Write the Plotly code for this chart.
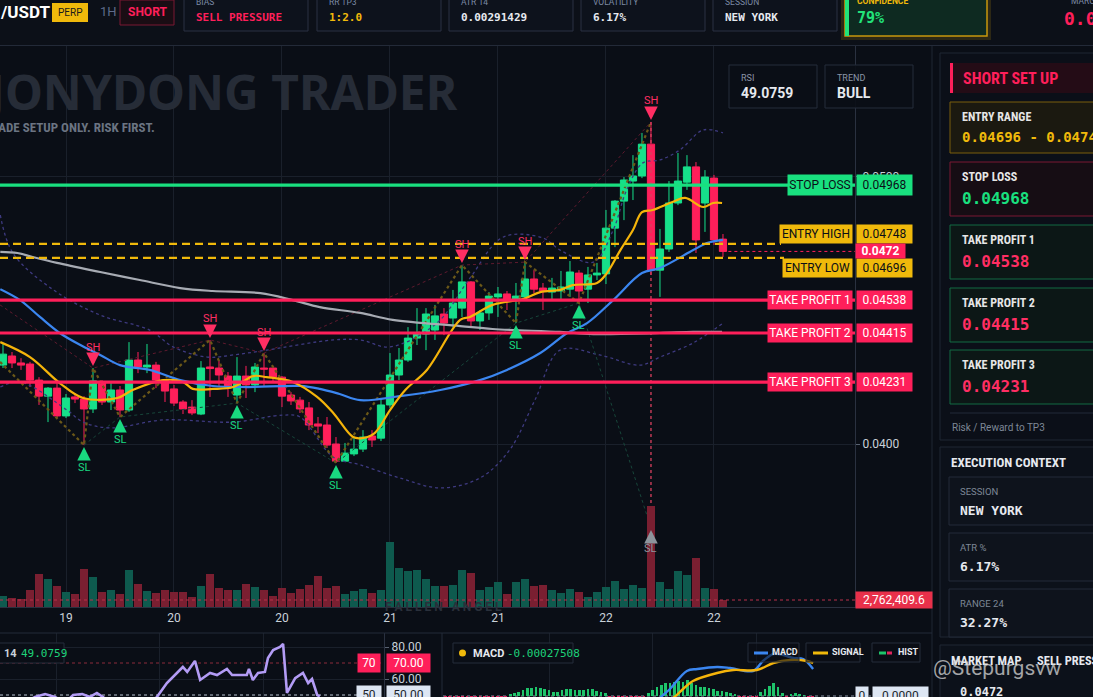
import plotly.graph_objects as go

W, H = 1093, 697

# ====================== DATA ======================
time_ticks = [7, 19, 31, 43, 55, 67, 79]
time_labels = ["19", "20", "20", "21", "21", "22", "22"]
price_ticks = [0.04, 0.05]
price_labels = ["0.0400", "0.0500"]

open_p = [0.04295, 0.04329, 0.04303, 0.04299, 0.04239, 0.04179, 0.04209, 0.04105, 0.04176, 0.04168,
          0.04131, 0.04228, 0.04157, 0.04202, 0.04127, 0.04314, 0.04288, 0.04295, 0.04239, 0.04206,
          0.04157, 0.04138, 0.04112, 0.04288, 0.04284, 0.04254, 0.04183, 0.04254, 0.04221, 0.04284,
          0.04284, 0.04250, 0.04183, 0.04164, 0.04135, 0.04075, 0.04071, 0.04000, 0.03936, 0.03963,
          0.03981, 0.04030, 0.04022, 0.04146, 0.04258, 0.04314, 0.04396, 0.04411, 0.04426, 0.04486,
          0.04471, 0.04508, 0.04606, 0.04460, 0.04490, 0.04550, 0.04561, 0.04542, 0.04550, 0.04617,
          0.04583, 0.04568, 0.04572, 0.04579, 0.04639, 0.04579, 0.04632, 0.04636, 0.04807, 0.04908,
          0.04983, 0.05002, 0.05121, 0.04650, 0.04729, 0.04901, 0.04979, 0.05036, 0.04901, 0.04994,
          0.04766]
high_p = [0.04378, 0.04344, 0.04321, 0.04307, 0.04250, 0.04213, 0.04228, 0.04187, 0.04191, 0.04179,
          0.04284, 0.04239, 0.04228, 0.04217, 0.04381, 0.04344, 0.04374, 0.04307, 0.04243, 0.04221,
          0.04164, 0.04164, 0.04310, 0.04389, 0.04314, 0.04269, 0.04325, 0.04292, 0.04303, 0.04340,
          0.04292, 0.04254, 0.04194, 0.04176, 0.04157, 0.04101, 0.04101, 0.04026, 0.04004, 0.04022,
          0.04052, 0.04052, 0.04172, 0.04340, 0.04359, 0.04437, 0.04508, 0.04508, 0.04520, 0.04508,
          0.04576, 0.04669, 0.04609, 0.04501, 0.04568, 0.04587, 0.04572, 0.04602, 0.04680, 0.04650,
          0.04602, 0.04621, 0.04647, 0.04684, 0.04650, 0.04662, 0.04677, 0.04875, 0.04912, 0.04998,
          0.05080, 0.05163, 0.05204, 0.04804, 0.04983, 0.05088, 0.05080, 0.05054, 0.05024, 0.05006,
          0.04785]
low_p = [0.04284, 0.04284, 0.04277, 0.04213, 0.04146, 0.04082, 0.04097, 0.04097, 0.04153, 0.03996,
         0.04116, 0.04146, 0.04127, 0.04101, 0.04120, 0.04265, 0.04265, 0.04209, 0.04157, 0.04142,
         0.04112, 0.04108, 0.04108, 0.04176, 0.04213, 0.04176, 0.04153, 0.04172, 0.04194, 0.04217,
         0.04228, 0.04138, 0.04146, 0.04116, 0.04052, 0.04041, 0.03985, 0.03929, 0.03933, 0.03955,
         0.03970, 0.03989, 0.04011, 0.04135, 0.04239, 0.04307, 0.04370, 0.04351, 0.04389, 0.04407,
         0.04437, 0.04475, 0.04437, 0.04426, 0.04464, 0.04475, 0.04501, 0.04452, 0.04538, 0.04564,
         0.04501, 0.04538, 0.04538, 0.04550, 0.04527, 0.04527, 0.04613, 0.04598, 0.04736, 0.04837,
         0.04912, 0.04994, 0.04632, 0.04550, 0.04718, 0.04893, 0.04950, 0.04714, 0.04793, 0.04744,
         0.04699]
close_p = [0.04336, 0.04303, 0.04295, 0.04239, 0.04179, 0.04209, 0.04105, 0.04172, 0.04168, 0.04131,
           0.04236, 0.04157, 0.04202, 0.04127, 0.04314, 0.04288, 0.04295, 0.04239, 0.04198, 0.04153,
           0.04131, 0.04116, 0.04284, 0.04282, 0.04258, 0.04213, 0.04254, 0.04221, 0.04288, 0.04280,
           0.04250, 0.04179, 0.04161, 0.04131, 0.04071, 0.04067, 0.03996, 0.03936, 0.03966, 0.03981,
           0.04026, 0.04015, 0.04146, 0.04258, 0.04314, 0.04396, 0.04415, 0.04486, 0.04479, 0.04452,
           0.04527, 0.04606, 0.04460, 0.04490, 0.04553, 0.04561, 0.04535, 0.04553, 0.04617, 0.04579,
           0.04572, 0.04583, 0.04587, 0.04643, 0.04572, 0.04632, 0.04639, 0.04807, 0.04908, 0.04987,
           0.05002, 0.05121, 0.04650, 0.04729, 0.04901, 0.04983, 0.05036, 0.04763, 0.04998, 0.04763,
           0.04720]
volume_m = [4.34, 3.55, 3.16, 6.71, 13.02, 11.05, 8.29, 5.92, 5.13, 15.00,
            11.84, 5.92, 6.71, 5.13, 14.60, 9.08, 6.31, 5.52, 6.71, 5.92,
            5.92, 3.95, 8.29, 13.02, 7.50, 6.71, 6.71, 9.08, 7.89, 6.71,
            4.34, 7.50, 5.52, 7.10, 8.68, 12.23, 7.50, 8.29, 5.13, 6.31,
            7.10, 5.52, 6.71, 25.65, 15.39, 14.21, 14.60, 11.05, 8.29, 8.29,
            8.68, 14.60, 13.42, 6.71, 7.89, 9.87, 5.13, 9.87, 11.05, 8.29,
            8.68, 6.71, 5.52, 7.10, 5.92, 3.95, 5.92, 7.89, 10.26, 7.10,
            8.68, 7.50, 39.86, 9.87, 7.10, 14.21, 12.63, 19.34, 7.50, 7.10,
            2.76]
last_volume_text = "2,762,409.6"

stop_loss = 0.04968
entry_high = 0.04748
entry_low = 0.04696
take_profits = [0.04538, 0.04415, 0.04231]
last_price = 0.0472

sh_idx = [10, 23, 29, 51, 58, 72]
sl_idx = [9, 13, 26, 37, 57, 64]
deep_low_idx = 72
deep_low = 0.03686
sh_lead_x, sh_lead_y = -0.33, 0.04520
zz_lead_x, zz_lead_y = -0.33, 0.04307

ema_fast_x = [-0.3, 3, 6.3, 8.9, 12.7, 14.4, 17.8, 20, 21.1, 23.3, 25.6, 27.8, 29.3, 32.2, 34.9, 36.7,
              38.9, 39.9, 41.3, 43, 44.7, 47.1, 50.8, 51.9, 54.4, 57.8, 59.7, 61.9, 63.3, 66, 67.1,
              68.6, 70, 71, 72.2, 74.4, 75.8, 77.8, 78.9, 79.9]
ema_fast_y = [0.04381, 0.04325, 0.04228, 0.04172, 0.04172, 0.04202, 0.04239, 0.04232, 0.04206, 0.04206,
              0.04213, 0.04254, 0.04250, 0.04232, 0.04176, 0.04116, 0.04026, 0.04022, 0.04041, 0.04127,
              0.04202, 0.04277, 0.04464, 0.04475, 0.04520, 0.04542, 0.04568, 0.04576, 0.04594, 0.04602,
              0.04639, 0.04725, 0.04800, 0.04867, 0.04875, 0.04905, 0.04920, 0.04886, 0.04901, 0.04901]
ema_mid_x = [-0.3, 1.9, 4.1, 6.3, 8.6, 10.8, 13, 16.3, 19.7, 23.3, 27.1, 33, 35.2, 37.4, 39.7, 44.1,
             48.6, 53, 56, 59.7, 62.7, 64.9, 67.8, 71, 73, 76.7, 78.2, 80]
ema_mid_y = [0.04579, 0.04538, 0.04475, 0.04415, 0.04370, 0.04333, 0.04295, 0.04277, 0.04239, 0.04217,
             0.04213, 0.04217, 0.04206, 0.04187, 0.04164, 0.04179, 0.04202, 0.04239, 0.04277, 0.04340,
             0.04415, 0.04452, 0.04538, 0.04639, 0.04658, 0.04725, 0.04751, 0.04763]
ma_slow_x = [-0.3, 1.6, 3.3, 6, 10.8, 15.2, 19.7, 23.3, 28.6, 32.2, 35.2, 39.7, 43.3, 50.8, 54.4, 61.9,
             65.6, 73, 76.7, 79.9]
ma_slow_y = [0.04718, 0.04714, 0.04699, 0.04677, 0.04643, 0.04613, 0.04583, 0.04572, 0.04564, 0.04538,
             0.04512, 0.04490, 0.04464, 0.04441, 0.04430, 0.04419, 0.04411, 0.04415, 0.04419, 0.04419]
band_up_x = [-0.3, 1.1, 5.6, 10.8, 16.3, 18.9, 22.7, 25.6, 29.3, 36.7, 39.7, 43, 48.2, 51.9, 55.6, 60,
             61.9, 65.6, 67.8, 69.3, 71.1, 73, 75.2, 77.8, 80]
band_up_y = [0.04856, 0.04714, 0.04576, 0.04482, 0.04426, 0.04363, 0.04325, 0.04333, 0.04351, 0.04389,
             0.04389, 0.04363, 0.04452, 0.04621, 0.04774, 0.04770, 0.04725, 0.04680, 0.04800, 0.04950,
             0.05051, 0.05062, 0.05099, 0.05174, 0.05163]
band_lo_x = [-0.3, 1.9, 7.1, 8.9, 11.9, 17.8, 25.6, 31.1, 33, 36.7, 39.7, 44.1, 48.6, 53, 56.3, 59.1,
             61.9, 66.3, 70.8, 73, 76.7, 80]
band_lo_y = [0.04213, 0.04232, 0.04127, 0.04082, 0.04060, 0.04090, 0.04082, 0.04108, 0.04101, 0.03951,
             0.03922, 0.03873, 0.03836, 0.03873, 0.03978, 0.04164, 0.04351, 0.04333, 0.04295, 0.04325,
             0.04378, 0.04452]

rsi_x = [10.6, 14.1, 16.4, 18.7, 21, 22.9, 25, 26.8, 28.4, 29.8, 32.6, 36.1, 39.5, 42.3, 44.6, 46.9,
         48.3, 49.3, 51.1, 52.3, 54.6, 56.2, 58.5, 59.7, 63.1, 63.6, 64.5, 65.7, 67.3, 68, 69.2, 70.8,
         71.5, 72.4, 74.3, 76.1, 77.3, 78.2, 79.4, 80]
rsi_v = [43.8, 48.8, 50.6, 48.8, 45.0, 50.0, 50.6, 48.8, 51.3, 48.8, 41.9, 37.5, 39.4, 48.8, 57.5, 63.8,
         67.5, 64.4, 71.3, 59.4, 63.8, 62.5, 66.3, 62.5, 62.5, 66.3, 59.4, 63.8, 64.4, 73.1, 78.1, 80.0,
         81.9, 51.3, 60.6, 63.8, 57.5, 60.0, 50.0, 49.08]
rsi_text = "49.0759"

hist_x = list(range(-5, 81))
hist_v = [-0.00004, -0.00005, -0.00005, -0.00006, -0.00005, -0.00005, -0.00004, -0.00004, -0.00003, -0.00003,
          -0.00004, -0.00004, -0.00003, -0.00002, -0.00001,
          0.00002, 0.00003, 0.00004, 0.00006, 0.00008, 0.00008, 0.00009, 0.00008, 0.00007, 0.00006,
          0.00004, 0.00004, 0.00006, 0.00007, 0.00007, 0.00006, 0.00006, 0.00006, 0.00007, 0.00007,
          0.00005, 0.00004, 0.00003,
          -0.00002, -0.00004, -0.00006, -0.00007, -0.00008, -0.00007, -0.00006, -0.00004, -0.00002,
          0.00003, 0.00006, 0.00009, 0.00011, 0.00013, 0.00013, 0.00014, 0.00015, 0.00014, 0.00016,
          0.00013, 0.00011, 0.00009, 0.00009, 0.00008, 0.00007, 0.00005, 0.00005, 0.00004, 0.00003, 0.00002,
          -0.00002, -0.00003, -0.00004, -0.00003, -0.00002,
          0.00004, 0.00007, 0.00010, 0.00013, 0.00009, 0.00003, -0.00001, 0.00002, 0.00003, 0.00002,
          0.00001, -0.00003, -0.00005]
macd_x = [40, 43.5, 44.7, 47, 50.9, 53.3, 57.9, 60.9, 66.2, 68.5, 70.9, 73.2, 75.5, 77.8, 80.1]
macd_v = [-0.00015, -0.00010, -0.00002, 0.00007, 0.00025, 0.00027, 0.00029, 0.00028, 0.00025, 0.00035,
          0.00042, 0.00041, 0.00038, 0.00037, 0.00027]
signal_x = [44, 47.7, 50, 52.3, 57.9, 61.6, 67.1, 70.9, 74.8, 78.7, 80.1]
signal_v = [-0.00010, -0.00002, 0.00007, 0.00015, 0.00023, 0.00026, 0.00026, 0.00033, 0.00036, 0.00035,
            0.00033]
macd_text = "-0.00027508"

header_cards = [("BIAS", "SELL PRESSURE"), ("RR TP3", "1:2.0"), ("ATR 14", "0.00291429"),
                ("VOLATILITY", "6.17%"), ("SESSION", "NEW YORK")]
confidence_text = "79%"
context_cards = [("SESSION", "NEW YORK"), ("ATR %", "6.17%"), ("RANGE 24", "32.27%")]

# ====================== STYLE ======================
BG = "#0a0e16"
GRID = "#1a202b"
AXIS = "#2a3140"
BORDER = "#252c3a"
GREEN = "#19e07f"
RED = "#ff1f5a"
YEL = "#f0b90b"
C_UP = "#16e08a"
C_DN = "#ff1f5a"
VOL_UP = "#0e5a4e"
VOL_DN = "#7a1f31"
UI = "Roboto, Noto Sans, sans-serif"
NARROW = "Liberation Sans Narrow, Roboto Condensed, Roboto, sans-serif"
MONO = "DejaVu Sans Mono, monospace"
TXT = "#c9d1d9"


def X(px):
    return px / W


def Y(py):
    return 1 - py / H


shapes, anns = [], []


def rect(x0, y0, x1, y1, line=None, fill=None, lw=1):
    shapes.append(dict(type="rect", xref="paper", yref="paper", x0=X(x0), y0=Y(y0), x1=X(x1), y1=Y(y1),
                       line=dict(color=line if line else "rgba(0,0,0,0)", width=lw if line else 0),
                       fillcolor=fill if fill else "rgba(0,0,0,0)", layer="above"))


def seg(x0, y0, x1, y1, color, width=1, dash="solid"):
    shapes.append(dict(type="line", xref="paper", yref="paper", x0=X(x0), y0=Y(y0), x1=X(x1), y1=Y(y1),
                       line=dict(color=color, width=width, dash=dash), layer="above"))


def text(x, y, s, size=11, color="#e6e9ef", family=UI, anchor="left", bold=False):
    if bold:
        s = "<b>" + s + "</b>"
    anns.append(dict(x=X(x), y=Y(y), xref="paper", yref="paper", text=s, showarrow=False,
                     xanchor=anchor, yanchor="middle", font=dict(size=size, color=color, family=family)))


def tag(x, y, s, bg, fg, width, anchor, yref="y", height=17, size=12, family=UI, bold=False, yshift=0):
    if bold:
        s = "<b>" + s + "</b>"
    anns.append(dict(x=X(x), y=y, xref="paper", yref=yref, text=s, showarrow=False, xanchor=anchor,
                     yanchor="middle", bgcolor=bg, borderpad=1, width=width, height=height, align="center",
                     yshift=yshift, font=dict(size=size, color=fg, family=family)))


fig = go.Figure()
idx = list(range(len(close_p)))
up = [c >= o for o, c in zip(open_p, close_p)]

# ---- volume (overlay axis) ----
fig.add_trace(go.Bar(x=idx, y=volume_m, marker=dict(color=[VOL_UP if u else VOL_DN for u in up], line=dict(width=0)),
                     width=0.84, xaxis="x", yaxis="y4", hoverinfo="skip"))

# ---- bands ----
for bx, by in ((band_up_x, band_up_y), (band_lo_x, band_lo_y)):
    fig.add_trace(go.Scatter(x=bx, y=by, mode="lines", line=dict(color="#3e3a80", width=1.3, dash="dot", shape="spline"),
                             xaxis="x", yaxis="y", hoverinfo="skip"))

# ---- pivot connection lines ----
fig.add_trace(go.Scatter(x=[sh_lead_x] + sh_idx, y=[sh_lead_y] + [high_p[i] for i in sh_idx], mode="lines",
                         line=dict(color="#5e1a2e", width=1, dash="dot"), xaxis="x", yaxis="y", hoverinfo="skip"))
fig.add_trace(go.Scatter(x=sl_idx + [deep_low_idx], y=[low_p[i] for i in sl_idx] + [deep_low], mode="lines",
                         line=dict(color="#17463a", width=1, dash="dot"), xaxis="x", yaxis="y", hoverinfo="skip"))
piv = sorted([(i, low_p[i], 0) for i in sl_idx] + [(i, high_p[i], 1) for i in sh_idx])
fig.add_trace(go.Scatter(x=[zz_lead_x] + [p[0] for p in piv], y=[zz_lead_y] + [p[1] for p in piv], mode="lines",
                         line=dict(color="#6b5818", width=2.2, dash="dot"), xaxis="x", yaxis="y", hoverinfo="skip"))
fig.add_trace(go.Scatter(x=[sh_idx[-1], deep_low_idx], y=[high_p[sh_idx[-1]], deep_low], mode="lines",
                         line=dict(color="#d9405e", width=1.3, dash="dot"), xaxis="x", yaxis="y", hoverinfo="skip"))

# ---- gray slow MA ----
fig.add_trace(go.Scatter(x=ma_slow_x, y=ma_slow_y, mode="lines", line=dict(color="#a7abb3", width=2.2, shape="spline"),
                         xaxis="x", yaxis="y", hoverinfo="skip"))

# ---- candles ----
fig.add_trace(go.Candlestick(x=idx, open=open_p, high=high_p, low=low_p, close=close_p,
                             increasing=dict(line=dict(color=C_UP, width=1), fillcolor=C_UP),
                             decreasing=dict(line=dict(color=C_DN, width=1), fillcolor=C_DN),
                             whiskerwidth=0, xaxis="x", yaxis="y", hoverinfo="skip"))

# ---- EMAs ----
fig.add_trace(go.Scatter(x=ema_mid_x, y=ema_mid_y, mode="lines", line=dict(color="#3b86f0", width=2.2, shape="spline"),
                         xaxis="x", yaxis="y", hoverinfo="skip"))
fig.add_trace(go.Scatter(x=ema_fast_x, y=ema_fast_y, mode="lines", line=dict(color="#f5b40a", width=2.2, shape="spline"),
                         xaxis="x", yaxis="y", hoverinfo="skip"))

# ---- RSI ----
fig.add_trace(go.Scatter(x=rsi_x, y=rsi_v, mode="lines", line=dict(color="#b39cf5", width=2.6),
                         xaxis="x2", yaxis="y2", hoverinfo="skip"))

# ---- MACD ----
fig.add_trace(go.Bar(x=hist_x, y=hist_v, marker=dict(color=["#1ec46a" if v >= 0 else "#e0245e" for v in hist_v], line=dict(width=0)),
                     width=0.62, xaxis="x3", yaxis="y3", hoverinfo="skip"))
fig.add_trace(go.Scatter(x=macd_x, y=macd_v, mode="lines", line=dict(color="#3b86f0", width=2.4, shape="spline"),
                         xaxis="x3", yaxis="y3", hoverinfo="skip"))
fig.add_trace(go.Scatter(x=signal_x, y=signal_v, mode="lines", line=dict(color="#f5b40a", width=2.4, shape="spline"),
                         xaxis="x3", yaxis="y3", hoverinfo="skip"))


# ---- level lines ----
def level(y, color, width, dash="solid", x1=855):
    shapes.append(dict(type="line", xref="paper", yref="y", x0=0, x1=X(x1), y0=y, y1=y,
                       line=dict(color=color, width=width, dash=dash), layer="above"))


level(stop_loss, GREEN, 3.2)
for tp in take_profits:
    level(tp, RED, 3.2)
level(entry_high, YEL, 2.2, "8px,5px", 781)
level(entry_low, YEL, 2.2, "8px,5px", 784)
shapes.append(dict(type="line", xref="x", yref="y", x0=len(close_p) - 0.4, x1=94.67, y0=last_price, y1=last_price,
                   line=dict(color=RED, width=1, dash="dot"), layer="above"))
shapes.append(dict(type="line", xref="paper", yref="y4", x0=0, x1=X(855), y0=volume_m[-1], y1=volume_m[-1],
                   line=dict(color="#b8304a", width=1, dash="dot"), layer="above"))

# ---- level tags ----
tag(853, stop_loss, "STOP LOSS", GREEN, "#0b0f17", 62, "right", height=18)
tag(856, stop_loss, "%.5f" % stop_loss, GREEN, "#0b0f17", 53, "left", height=18)
tag(853, entry_high, "ENTRY HIGH", YEL, "#0b0f17", 70, "right", height=16, yshift=10)
tag(856, entry_high, "%.5f" % entry_high, YEL, "#0b0f17", 53, "left", height=16, yshift=10)
tag(853, entry_low, "ENTRY LOW", YEL, "#0b0f17", 67, "right", height=16, yshift=-10)
tag(856, entry_low, "%.5f" % entry_low, YEL, "#0b0f17", 53, "left", height=16, yshift=-10)
tag(855, last_price, "%.4f" % last_price, RED, "#ffffff", 47, "left", height=12, bold=True)
for n, tp in enumerate(take_profits, 1):
    tag(853, tp, "TAKE PROFIT %d" % n, RED, "#ffffff", 82, "right", height=16)
    tag(856, tp, "%.5f" % tp, RED, "#ffffff", 53, "left", height=16)
tag(855, volume_m[-1], last_volume_text, "#e8304a", "#ffffff", 74, "left", yref="y4", height=14)

# ---- SH / SL markers ----
for i in sh_idx:
    anns.append(dict(x=i, y=high_p[i], xref="x", yref="y", text="SH", showarrow=True, ax=0, ay=-21,
                     arrowhead=2, arrowsize=0.9, arrowwidth=3, arrowcolor="#ff2e63", standoff=2,
                     font=dict(size=11, color="#ff2e63", family=UI)))
for i in sl_idx:
    anns.append(dict(x=i, y=low_p[i], xref="x", yref="y", text="SL", showarrow=True, ax=0, ay=22,
                     arrowhead=2, arrowsize=0.9, arrowwidth=3, arrowcolor="#19d980", standoff=2,
                     font=dict(size=11, color="#19d980", family=UI)))
anns.append(dict(x=deep_low_idx, y=deep_low, xref="x", yref="y", text="SL", showarrow=True, ax=0, ay=20,
                 arrowhead=2, arrowsize=0.9, arrowwidth=3, arrowcolor="#8d949c", standoff=2,
                 font=dict(size=11, color="#8d949c", family=UI)))

# ---- chart watermark / titles ----
text(460, 91, "JONYDONG TRADER", 48, "#262c37", "Noto Sans, sans-serif", "right", True)
text(157, 127, "TRADE SETUP ONLY. RISK FIRST.", 13, "#6b7482", NARROW, "right", True)
text(443, 607, "F A L L E N   A N G E L", 12, "#2a303b", UI, "center", True)

# RSI / TREND boxes
rect(729, 65, 817, 108, BORDER, "rgba(10,14,22,0.9)")
rect(825, 65, 913, 108, BORDER, "rgba(10,14,22,0.9)")
text(739, 78, "RSI", 9, "#8a94a6")
text(739, 93, rsi_text, 14, "#e6e9ef", UI, bold=True)
text(835, 78, "TREND", 9, "#8a94a6")
text(835, 93, "BULL", 14, "#e6e9ef", UI, bold=True)

# ---- top bar ----
rect(0, 0, W, 45, None, "#0c1018")
seg(0, 45.5, W, 45.5, "#232a38", 1)
text(-2, 12, "/USDT", 17, "#ffffff", UI, bold=True)
rect(52, 3, 88, 22, None, YEL)
text(70, 12.5, "PERP", 10, "#1a1a1a", UI, "center")
text(98, 12, "1H", 13, "#5d6b8a", UI)
rect(120, 0, 174, 25, "#7a1832", "#1a0d14")
text(147, 12, "SHORT", 12, RED, UI, "center", True)
card_x = [184, 317, 449, 581, 713]
for (lab, val), cx in zip(header_cards, card_x):
    rect(cx, -3, cx + 124, 31, "#2a3142", "#0d121c")
    text(cx + 9.5, 2, lab, 8.5, "#7c8aa5")
    col = RED if lab == "BIAS" else (YEL if lab == "RR TP3" else "#e6e9ef")
    text(cx + 9.5, 17.5, val, 11, col, MONO, bold=True)
rect(843, -5, 989, 38, "rgba(200,150,12,0.18)", None, 4)
rect(845, -3, 987, 36, "#c8960c", "#0e2a21", 1.5)
rect(845, -3, 849, 36, None, "#22e37a")
text(855, 1, "CONFIDENCE", 8.5, YEL, UI, bold=True)
text(855, 18, confidence_text, 15, "#22e37a", MONO, bold=True)
text(1069, 1, "MARGIN", 8.5, "#7c8aa5")
text(1062, 18, "0.0", 18, RED, MONO, bold=True)

# ---- separators ----
seg(932, 46, 932, H, "#1f2633", 1)
seg(0, 633, 932, 633, "#232a38", 1)
seg(442, 633, 442, H, "#232a38", 1)

# ---- right: short setup panel ----
rect(940, 53, 1100, 440, "#1f2633", "#0b0f18")
rect(950, 63, 1100, 93, None, "#240c16")
rect(950, 63, 953, 93, None, RED)
text(961, 78, "SHORT SET UP", 16, RED, NARROW, bold=True)
rect(950, 102, 1100, 153, "#7a5e0c", "#1b1910")
text(960, 117, "ENTRY RANGE", 12, "#e6e6e6", NARROW, bold=True)
text(960, 137, "%.5f - %.5f" % (entry_low, entry_high), 14, YEL, MONO, bold=True)
rect(950, 162, 1100, 216, "#7a1832", "#160d14")
text(960, 177, "STOP LOSS", 12, "#e6e6e6", NARROW, bold=True)
text(960, 198, "%.5f" % stop_loss, 16, GREEN, MONO, bold=True)
for n, (tp, yy) in enumerate(zip(take_profits, [225, 288, 350]), 1):
    rect(950, yy, 1100, yy + 54, "#136b43", "#0c1716")
    text(960, yy + 15, "TAKE PROFIT %d" % n, 12, "#e6e6e6", NARROW, bold=True)
    text(960, yy + 36, "%.5f" % tp, 16, "#ff2e63", MONO, bold=True)
seg(950, 413, 1093, 413, "#232a38", 1)
text(950, 427, "Risk / Reward to TP3", 10, "#7d8796", UI)

# ---- right: execution context ----
rect(940, 447, 1100, 637, "#1f2633", "#0c111a")
text(949, 462, "EXECUTION CONTEXT", 13, "#e6e9ef", NARROW, bold=True)
for (lab, val), yy in zip(context_cards, [477, 533, 589]):
    rect(949, yy, 1100, yy + 48, "#232a38", "#0e131c")
    text(958, yy + 14, lab, 9.5, "#7d8796", UI)
    text(958, yy + 33, val, 13, "#e6e9ef", MONO, bold=True)
rect(940, 645, 1100, 705, "#1f2633", "#0c111a")
text(949, 660, "MARKET MAP", 12.5, "#e6e9ef", NARROW, bold=True)
text(1035, 660, "SELL PRESSURE", 12.5, "#e6e9ef", NARROW, bold=True)
text(958, 692, "%.4f" % last_price, 12, "#e6e9ef", MONO, bold=True)
text(931, 668, "@Stepurgsvw", 21, "rgba(215,215,215,0.75)", UI)

# ---- RSI panel decorations ----
shapes.append(dict(type="line", xref="paper", yref="y2", x0=0, x1=X(384), y0=70, y1=70,
                   line=dict(color="#8b2a3a", width=1, dash="dot"), layer="below"))
shapes.append(dict(type="line", xref="paper", yref="y2", x0=0, x1=X(384), y0=50, y1=50,
                   line=dict(color="#b9c2cf", width=1, dash="dot"), layer="below"))
tag(381, 70, "70", RED, "#ffffff", 20, "right", yref="y2", height=16)
tag(386, 70, "70.00", RED, "#ffffff", 41, "left", yref="y2", height=16)
tag(382, 50, "50", "#dde6f3", "#1a1f29", 22, "right", yref="y2", height=16)
tag(386, 50, "50.00", "#dde6f3", "#1a1f29", 41, "left", yref="y2", height=16)
rect(-1, 643, 64, 663, BORDER, "rgba(10,14,22,0.9)")
text(2, 653, "14", 11, "#c9d1d9", UI, bold=True)
text(19, 653, rsi_text, 11, "#1ed37a", MONO)

# ---- MACD panel decorations ----
shapes.append(dict(type="line", xref="paper", yref="y3", x0=X(443), x1=X(871), y0=0, y1=0,
                   line=dict(color="#8a93a3", width=1, dash="dot"), layer="below"))
rect(453, 643, 573, 663, BORDER, "rgba(10,14,22,0.85)")
shapes.append(dict(type="circle", xref="paper", yref="paper", x0=X(459), x1=X(466), y0=Y(649.5), y1=Y(656.5),
                   fillcolor=YEL, line=dict(width=0)))
text(471, 653, "MACD", 11, "#e6e9ef", UI, bold=True)
text(505, 653, macd_text, 11, "#1ed37a", MONO)
rect(748, 643, 799, 662, BORDER, "rgba(10,14,22,0.6)")
seg(754, 653, 768, 653, "#3b86f0", 3)
text(770, 652, "MACD", 9, "#e6e9ef", UI, bold=True)
rect(806, 643, 860, 662, BORDER, "rgba(10,14,22,0.6)")
seg(813, 653, 828, 653, YEL, 3)
text(830, 652, "SIGNAL", 9, "#e6e9ef", UI, bold=True)
rect(872, 643, 920, 662, BORDER, "rgba(10,14,22,0.6)")
seg(879, 653, 886, 653, "#1ec46a", 3)
seg(887, 653, 892, 653, "#e0245e", 3)
text(896, 652, "HIST", 9, "#e6e9ef", UI, bold=True)
tag(869, 0, "0", "#dde6f3", "#1a1f29", 10, "right", yref="y3", height=16)
tag(872, 0, "0.0000", "#dde6f3", "#1a1f29", 53, "left", yref="y3", height=16)

fig.update_layout(
    width=W, height=H, margin=dict(l=0, r=0, t=0, b=0),
    paper_bgcolor=BG, plot_bgcolor=BG, showlegend=False, bargap=0, boxgap=0.2, boxgroupgap=0,
    font=dict(family=UI, color=TXT),
    xaxis=dict(domain=[0, X(855)], range=[-1 / 3, 94.67], tickvals=time_ticks, ticktext=time_labels,
               showgrid=True, gridcolor=GRID, zeroline=False, showline=True, linecolor=AXIS, ticks="",
               tickfont=dict(size=12, color=TXT, family=UI), rangeslider=dict(visible=False), anchor="y"),
    yaxis=dict(domain=[Y(607), Y(46)], range=[0.033907, 0.054879], side="right", tickvals=price_ticks,
               ticktext=price_labels, showgrid=True, gridcolor=GRID, zeroline=False, showline=True,
               linecolor=AXIS, ticks="outside", ticklen=4, tickcolor="#5a6372",
               tickfont=dict(size=12, color=TXT, family=UI), anchor="x"),
    yaxis4=dict(overlaying="y", range=[0, 221.4], visible=False, anchor="x"),
    xaxis2=dict(domain=[0, X(384)], range=[5.97, 94.86], anchor="y2", tickvals=[19, 43, 67],
                showticklabels=False, showgrid=True, gridcolor=GRID, zeroline=False, showline=False),
    yaxis2=dict(domain=[0, Y(633)], range=[48.75, 88.75], side="right", anchor="x2", tickvals=[60, 80],
                ticktext=["60.00", "80.00"], showgrid=True, gridcolor=GRID, zeroline=False, showline=True,
                linecolor=AXIS, ticks="outside", ticklen=4, tickcolor="#5a6372",
                tickfont=dict(size=12, color=TXT, family=UI)),
    xaxis3=dict(domain=[X(443), X(871)], range=[-5.54, 93.5], anchor="y3", tickvals=[19, 43, 67],
                showticklabels=False, showgrid=True, gridcolor=GRID, zeroline=False, showline=False),
    yaxis3=dict(domain=[0, Y(633)], range=[-0.00001, 0.00063], anchor="x3", side="right",
                showticklabels=False, showgrid=False, zeroline=False, showline=False),
    shapes=shapes, annotations=anns,
)

fig.write_html("out.html", config={"displayModeBar": False},
               post_script="document.body.style.margin='0';document.body.style.overflow='hidden';")
